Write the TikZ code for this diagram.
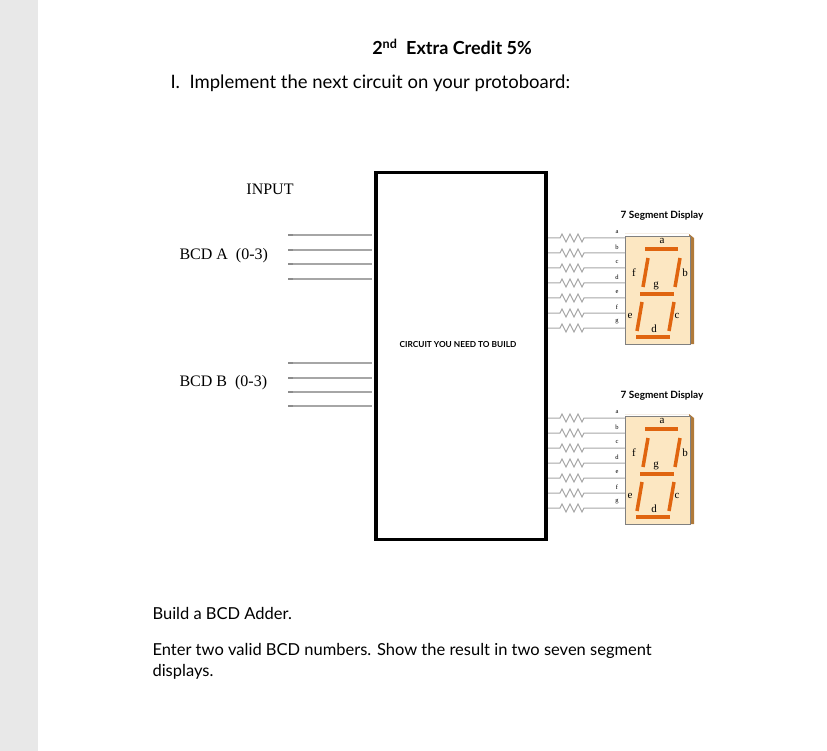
\documentclass[tikz,border=0pt]{standalone}
\usepackage{fontspec}
\setmainfont{Lato}
\newfontfamily\serifA{Liberation Serif}
\definecolor{seg}{HTML}{E0650F}
\definecolor{pan}{HTML}{FCE7C2}
\definecolor{edge}{HTML}{B07A3A}
\begin{document}
\begin{tikzpicture}[x=1pt,y=-1pt,
  wire/.style={gray!70,line width=1.2pt},
  segl/.style={seg,line width=3.5pt},
  lbl/.style={font=\fontsize{6.5}{6.5}\selectfont\serifA,inner sep=0pt},
  sl/.style={inner sep=0pt,font=\fontsize{11}{11}\selectfont\serifA}]
\useasboundingbox (0,0) rectangle (827,751);
\fill[gray!18] (0,0) rectangle (38,751);
\node[font=\bfseries\fontsize{18}{20}\selectfont] (t) at (452,47) {2\textsuperscript{nd}\ \ Extra Credit 5\%};
\node[anchor=west,font=\fontsize{18.5}{20}\selectfont] (t2) at (167,83) {I.\ \ Implement the next circuit on your protoboard:};
\node[font=\serifA\fontsize{16}{18}\selectfont] (in) at (270,189) {INPUT};
\node[font=\serifA\fontsize{16}{18}\selectfont,anchor=west] (la) at (176,256) {BCD A\ \ (0-3)};
\node[font=\serifA\fontsize{16}{18}\selectfont,anchor=west] (lb) at (176,383) {BCD B\ \ (0-3)};
\node[draw,line width=3.5pt,minimum width=170pt,minimum height=367pt] (box) at (461,356) {};
\node[font=\bfseries\fontsize{8.3}{9}\selectfont] (cl) at (458,344) {CIRCUIT YOU NEED TO BUILD};
\foreach \y in {235,250,264,279,363,378,392,406}{
  \coordinate (w\y) at (288,\y);
  \draw[wire] (w\y) -- (372,\y);
  \draw[gray!90,line width=1.2pt] (w\y) -- ++(5,0);}
\foreach \dy/\name in {0/A,180/B}{
\begin{scope}[yshift=-\dy]
 \node[font=\bfseries\fontsize{10}{11}\selectfont] (d\name) at (662,216) {7 Segment Display};
 \fill[edge] (625,234) -- (689,234) -- (694,238) -- (694,344) -- (689,344) -- (689,234) -- cycle;
 \draw[gray,fill=pan] (625,236) rectangle (690,344);
 \draw[segl] (645,249) -- (678,249);
 \draw[segl] (648,258) -- (643,287);
 \draw[segl] (680,258) -- (675,287);
 \draw[segl] (640,294) -- (674,294);
 \draw[segl] (642,302) -- (637,331);
 \draw[segl] (674,302) -- (669,331);
 \draw[segl] (636,337) -- (670,337);
 \node[sl] at (662,241) {a};
 \node[sl] at (685,273) {b};
 \node[sl] at (634,273) {f};
 \node[sl] at (656,286) {g};
 \node[sl] at (630,316) {e};
 \node[sl] at (677,316) {c};
 \node[sl] at (654,329) {d};
 \foreach \l [count=\i from 0] in {a,b,c,d,e,f,g}{
   \pgfmathsetmacro{\yy}{238+15*\i}
   \draw[gray!70,line width=1pt] (548,\yy) -- (560,\yy) -- (562,\yy-4) -- (566,\yy+4) -- (570,\yy-4) -- (574,\yy+4) -- (578,\yy-4) -- (582,\yy+4) -- (584,\yy) -- (625,\yy);
   \node[lbl] at (617,\yy-6) {\l};}
\end{scope}}
\node[anchor=west,font=\fontsize{16.5}{18}\selectfont] (b1) at (149,613) {Build a BCD Adder.};
\node[anchor=west,align=left,font=\fontsize{16.5}{21}\selectfont] (b2) at (149,661) {Enter two valid BCD numbers. Show the result in two seven segment\\displays.};
\end{tikzpicture}
\end{document}
